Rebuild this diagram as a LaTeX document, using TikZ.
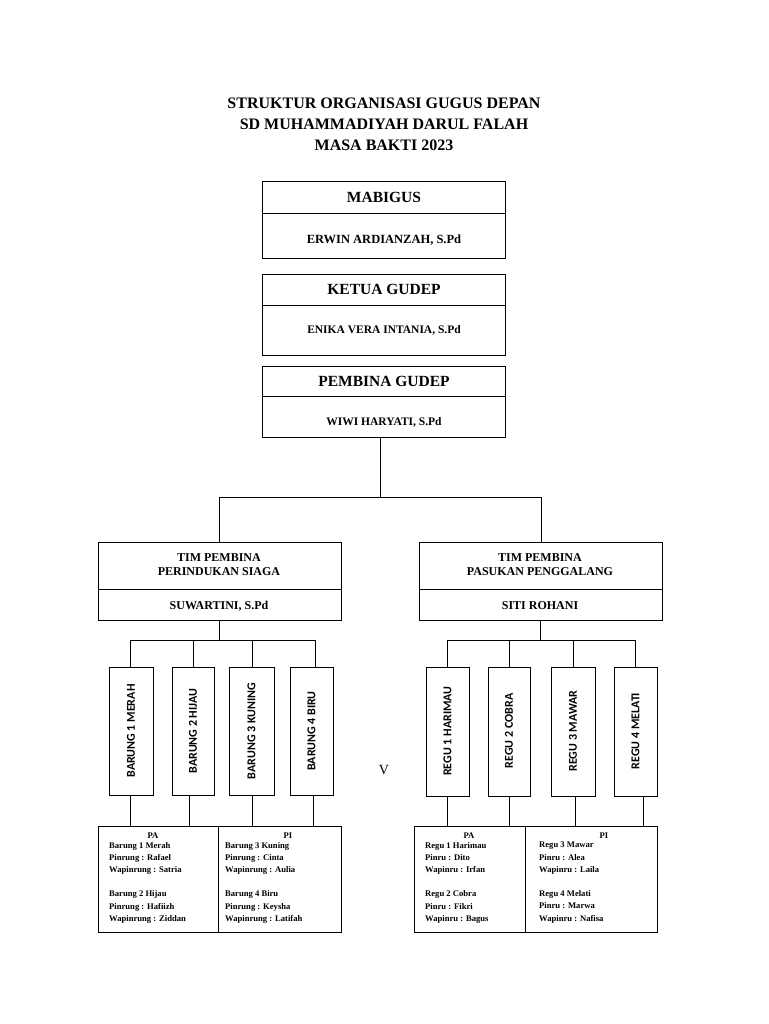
\documentclass[tikz,border=0pt]{standalone}
\usepackage{fontspec}
\setmainfont{Liberation Serif}
\newfontfamily\carlitofam{Carlito}
\begin{document}
\begin{tikzpicture}[x=1pt,y=-1pt,
  bx/.style={draw,line width=0.8pt},
  ln/.style={line width=0.8pt},
  tt/.style={font=\fontsize{16}{18}\selectfont\bfseries},
  hd/.style={font=\fontsize{15.5}{18}\selectfont\bfseries},
  nm/.style={font=\fontsize{12.5}{15}\selectfont\bfseries},
  sm/.style={font=\fontsize{12}{14}\selectfont\bfseries,align=center},
  vt/.style={font=\carlitofam\fontsize{12}{14}\selectfont\bfseries,rotate=90},
  lst/.style={font=\fontsize{8.6}{12.2}\selectfont\bfseries,align=left,anchor=north west,inner sep=0pt}]
\useasboundingbox (0,0) rectangle (768,1024);
\node[tt] (t1) at (384,103) {STRUKTUR ORGANISASI GUGUS DEPAN};
\node[tt] (t2) at (384,124) {SD MUHAMMADIYAH DARUL FALAH};
\node[tt] (t3) at (384,145) {MASA BAKTI 2023};
% top boxes
\draw[bx] (262,181) rectangle (505,258); \draw[ln] (262,213)--(505,213);
\node[hd] (mab) at (384,197) {MABIGUS};
\node[nm] (erw) at (384,240) {ERWIN ARDIANZAH, S.Pd};
\draw[bx] (262,274) rectangle (505,355); \draw[ln] (262,305)--(505,305);
\node[hd] (ket) at (384,289) {KETUA GUDEP};
\node[font=\fontsize{11.5}{14}\selectfont\bfseries] (eni) at (384,330) {ENIKA VERA INTANIA, S.Pd};
\draw[bx] (262,366) rectangle (505,437); \draw[ln] (262,396)--(505,396);
\node[hd] (pem) at (384,381) {PEMBINA GUDEP};
\node[font=\fontsize{11.5}{14}\selectfont\bfseries] (wiw) at (384,422) {WIWI HARYATI, S.Pd};
\coordinate (pb) at (380,437);
\coordinate (j) at (380,497);
\draw[ln] (pb)--(j);
\draw[ln] (219,542)--(219,497)--(541,497)--(541,542);
% tim pembina
\draw[bx] (98,542) rectangle (341,620); \draw[ln] (98,589)--(341,589);
\node[sm] (tl) at (219,565) {TIM PEMBINA\\PERINDUKAN SIAGA};
\node[font=\fontsize{12}{14}\selectfont\bfseries] (sw) at (219,606) {SUWARTINI, S.Pd};
\draw[bx] (419,542) rectangle (662,620); \draw[ln] (419,589)--(662,589);
\node[sm] (tr) at (540,565) {TIM PEMBINA\\PASUKAN PENGGALANG};
\node[font=\fontsize{12}{14}\selectfont\bfseries] (st) at (540,606) {SITI ROHANI};
% barung
\draw[ln] (219,620)--(219,640); \draw[ln] (130,667)--(130,640)--(315,640)--(315,667);
\draw[ln] (193,640)--(193,667); \draw[ln] (252,640)--(252,667);
\foreach \a/\b/\t in {109/153/BARUNG 1 MERAH,172/214/BARUNG 2 HIJAU,229/274/BARUNG 3 KUNING,290/333/BARUNG 4 BIRU}{
  \draw[bx] (\a,667) rectangle (\b,795);
  \node[vt] at ({(\a+\b)/2},731) {\t};}
\draw[ln] (540,620)--(540,640); \draw[ln] (447,667)--(447,640)--(635,640)--(635,667);
\draw[ln] (509,640)--(509,667); \draw[ln] (573,640)--(573,667);
\foreach \a/\b/\t in {426/469/REGU 1 HARIMAU,488/530/REGU 2 COBRA,551/595/REGU 3 MAWAR,614/657/REGU 4 MELATI}{
  \draw[bx] (\a,667) rectangle (\b,796);
  \node[vt] at ({(\a+\b)/2},731) {\t};}
\node[font=\fontsize{14}{16}\selectfont] (v) at (384,770) {V};
% bottom connectors
\foreach \x in {130,189,252,313} \draw[ln] (\x,795)--(\x,826);
\foreach \x in {447,509,575,643} \draw[ln] (\x,796)--(\x,826);
\draw[bx] (98,826) rectangle (341,932); \draw[ln] (218,826)--(218,932);
\draw[bx] (414,826) rectangle (657,932); \draw[ln] (525,826)--(525,932);
\node[font=\fontsize{8.6}{10}\selectfont\bfseries] at (153,836) {PA};
\node[font=\fontsize{8.6}{10}\selectfont\bfseries] at (288,836) {PI};
\node[font=\fontsize{8.6}{10}\selectfont\bfseries] at (469,836) {PA};
\node[font=\fontsize{8.6}{10}\selectfont\bfseries] at (604,836) {PI};
\node[lst] (l1) at (109,842) {Barung 1 Merah\\Pinrung : Rafael\\Wapinrung : Satria\\[12.2pt]Barung 2 Hijau\\Pinrung : Hafiizh\\Wapinrung : Ziddan};
\node[lst] (l2) at (225,842) {Barung 3 Kuning\\Pinrung : Cinta\\Wapinrung : Aulia\\[12.2pt]Barung 4 Biru\\Pinrung : Keysha\\Wapinrung : Latifah};
\node[lst] (l3) at (425,842) {Regu 1 Harimau\\Pinru : Dito\\Wapinru : Irfan\\[12.2pt]Regu 2 Cobra\\Pinru : Fikri\\Wapinru : Bagus};
\node[lst] (l4) at (539,842) {Regu 3 Mawar\\Pinru : Alea\\Wapinru : Laila\\[12.2pt]Regu 4 Melati\\Pinru : Marwa\\Wapinru : Nafisa};
\end{tikzpicture}
\end{document}
